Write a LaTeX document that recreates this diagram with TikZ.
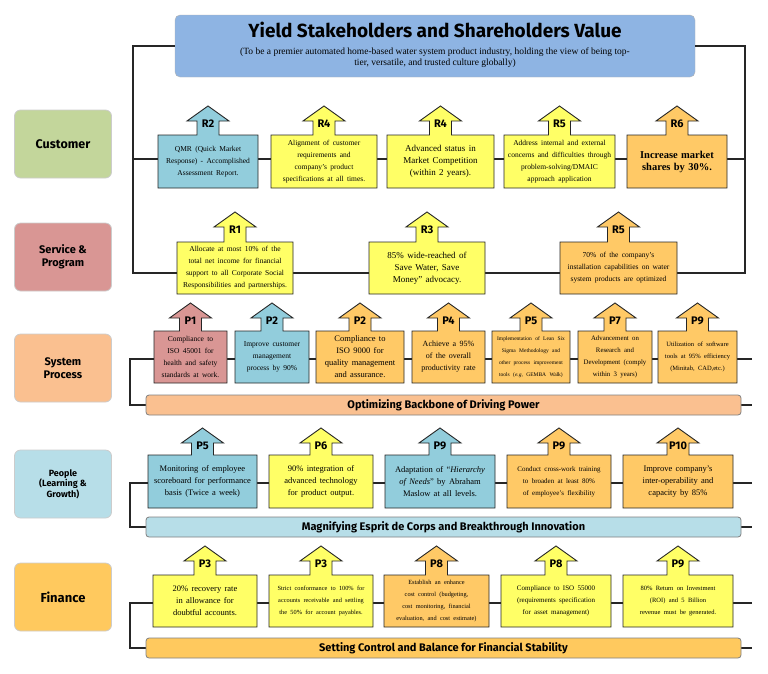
\documentclass[tikz,border=0pt]{standalone}
\usepackage{fontspec}
\setmainfont{Liberation Serif}
\newfontfamily\hd{Fira Sans}
\hyphenpenalty=10000 \exhyphenpenalty=10000
\definecolor{cyel}{HTML}{FFFF66}
\definecolor{corg}{HTML}{FFC966}
\definecolor{cblu}{HTML}{92CDDC}
\definecolor{cpnk}{HTML}{D99694}
\definecolor{ctit}{HTML}{8EB4E3}
\definecolor{cgrn}{HTML}{C3D69B}
\definecolor{csys}{HTML}{FAC090}
\definecolor{cppl}{HTML}{B7DEE8}
\definecolor{cfin}{HTML}{FFC95E}
\tikzset{
 conn/.style={line width=1.1pt,black!85},
 arr/.style={draw=black!85,line width=0.9pt,line join=miter},
 lab/.style={font=\hd\bfseries\fontsize{11}{12}\selectfont},
 cat/.style={draw=black!20,rounded corners=6pt,line width=0.8pt,minimum width=97pt,align=center,font=\hd\bfseries\fontsize{11}{13}\selectfont},
 ban/.style={draw=black!50,rounded corners=3pt,line width=0.8pt,minimum height=20pt,font=\hd\bfseries\fontsize{11}{12}\selectfont},
}
% name, x1, x2, yarrowtop, yboxtop, yboxbottom, color, label, text
\newcommand\abox[9]{%
 \pgfmathsetmacro\cx{(#2+#3)/2}%
 \draw[arr,fill=#7] (#2,#5) -- ({\cx-11},#5) -- ({\cx-11},{#4+15}) -- ({\cx-21},{#4+15}) -- (\cx,#4) -- ({\cx+21},{#4+15}) -- ({\cx+11},{#4+15}) -- ({\cx+11},#5) -- (#3,#5) -- (#3,#6) -- (#2,#6) -- cycle;
 \node[lab] at (\cx,{#4+18}) {#8};
 \node[align=center,text width={#3-#2-6pt},inner sep=0pt] (#1) at (\cx,{(#5+#6)/2}) {#9};
}
\begin{document}
\begin{tikzpicture}[x=1pt,y=-1pt]
\useasboundingbox (0,0) rectangle (768,673);
% title
\node[draw=black!30,fill=ctit,rounded corners=5pt,minimum width=520pt,minimum height=62pt] (title) at (435,46) {};
\node[font=\hd\bfseries\fontsize{19}{21}\selectfont] (ttl) at (435,30) {Yield Stakeholders and Shareholders Value};
\node[align=center,font=\fontsize{9.5}{11}\selectfont] (sub) at (435,58) {(To be a premier automated home-based water system product industry, holding the view of being top-\\tier, versatile, and trusted culture globally)};
% category labels
\node[cat,fill=cgrn,minimum height=68pt,font=\hd\bfseries\fontsize{12.5}{14}\selectfont] (c1) at (63,144) {Customer};
\node[cat,fill=cpnk,minimum height=68pt] (c2) at (63,257) {Service \&\\Program};
\node[cat,fill=csys,minimum height=68pt] (c3) at (63,368) {System\\Process};
\node[cat,fill=cppl,minimum height=68pt,font=\hd\bfseries\fontsize{9}{10.5}\selectfont] (c4) at (63,484) {People\\(Learning \&\\Growth)};
\node[cat,fill=cfin,minimum height=68pt,font=\hd\bfseries\fontsize{13}{14}\selectfont] (c5) at (63,597) {Finance};
% frame lines
\coordinate (tl) at (133,46); \coordinate (tr) at (745,46);
\coordinate (l1) at (133,159); \coordinate (r1) at (745,159);
\coordinate (l2) at (133,273); \coordinate (r2) at (745,273);
\draw[conn] (title.west) -- (tl) -- (l2) -- (r2) -- (tr) -- (title.east);
\draw[conn] (l1) -- (r1);
\foreach \a/\b in {359/405,483/527,603/648}{
 \draw[conn] (752,\a) -- (130,\a) -- (130,\b) -- (752,\b);
}
% banners
\node[ban,fill=csys,minimum width=595pt] (b1) at (443.5,405) {Optimizing Backbone of Driving Power};
\node[ban,fill=cppl,minimum width=595pt] (b2) at (443.5,527) {Magnifying Esprit de Corps and Breakthrough Innovation};
\node[ban,fill=cfin,minimum width=595pt] (b3) at (443.5,648) {Setting Control and Balance for Financial Stability};
% customer
\abox{r2a}{158}{258}{106}{135}{188}{cblu}{R2}{\fontsize{7.5}{10}\selectfont QMR (Quick Market Response) - Accomplished Assessment Report.}
\abox{r4a}{271}{377}{106}{135}{188}{cyel}{R4}{\fontsize{7.5}{9.5}\selectfont Alignment of customer requirements and company's product specifications at all times.}
\abox{r4b}{387}{494}{106}{135}{188}{cyel}{R4}{\fontsize{9}{12}\selectfont Advanced status in Market Competition (within 2 years).}
\abox{r5a}{504}{615}{106}{135}{188}{cyel}{R5}{\fontsize{7.5}{9.5}\selectfont Address internal and external concerns and difficulties through problem-solving/DMAIC approach application}
\abox{r6}{627}{727}{106}{135}{188}{corg}{R6}{\fontsize{10.5}{14}\selectfont\bfseries Increase market shares by 30\%.}
% service
\abox{r1}{177}{293}{212}{242}{294}{cyel}{R1}{\fontsize{7.5}{9.5}\selectfont Allocate at most 10\% of the total net income for financial support to all Corporate Social Responsibilities and partnerships.}
\abox{r3}{369}{485}{212}{242}{294}{cyel}{R3}{\fontsize{9}{12}\selectfont 85\% wide-reached of Save Water, Save Money'' advocacy.}
\abox{r5b}{560}{677}{212}{242}{294}{corg}{R5}{\fontsize{7.5}{9.5}\selectfont 70\% of the company's installation capabilities on water system products are optimized}
% system process
\abox{p1}{154}{227}{303}{331}{383}{cpnk}{P1}{\fontsize{7.5}{9.5}\selectfont Compliance to ISO 45001 for health and safety standards at work.}
\abox{p2a}{235}{309}{303}{331}{383}{cblu}{P2}{\fontsize{7.5}{9.5}\selectfont Improve customer management process by 90\%}
\abox{p2b}{316}{404}{303}{331}{383}{corg}{P2}{\fontsize{8.5}{10.5}\selectfont Compliance to ISO 9000 for quality management and assurance.}
\abox{p4}{412}{485}{303}{331}{383}{corg}{P4}{\fontsize{8}{10.5}\selectfont Achieve a 95\% of the overall productivity rate}
\abox{p5}{492}{570}{303}{331}{383}{corg}{P5}{\fontsize{5.5}{6.8}\selectfont Implementation of Lean Six Sigma Methodology and other process improvement tools (\textit{e.g}, GEMBA Walk)}
\abox{p7}{578}{652}{303}{331}{383}{corg}{P7}{\fontsize{6.8}{9}\selectfont Advancement on Research and Development (comply within 3 years)}
\abox{p9a}{658}{737}{303}{331}{383}{corg}{P9}{\fontsize{6.5}{8.5}\selectfont Utilization of software tools at 95\% efficiency (Minitab, CAD,etc.)}
% people
\abox{p5b}{148}{257}{428}{455}{508}{cblu}{P5}{\fontsize{8.5}{10.5}\selectfont Monitoring of employee scoreboard for performance basis (Twice a week)}
\abox{p6}{269}{373}{428}{455}{508}{cyel}{P6}{\fontsize{8.5}{10.5}\selectfont 90\% integration of advanced technology for product output.}
\abox{p9b}{385}{495}{428}{455}{508}{cblu}{P9}{\fontsize{8.5}{10.5}\selectfont Adaptation of ``\textit{Hierarchy of Needs}'' by Abraham Maslow at all levels.}
\abox{p9c}{507}{611}{428}{455}{508}{corg}{P9}{\fontsize{7}{9}\selectfont Conduct cross-work training to broaden at least 80\% of employee's flexibility}
\abox{p10}{623}{733}{428}{455}{508}{corg}{P10}{\fontsize{8.5}{10.5}\selectfont Improve company's inter-operability and capacity by 85\%}
% finance
\abox{p3a}{153}{257}{546}{575}{627}{cyel}{P3}{\fontsize{8.5}{11}\selectfont 20\% recovery rate in allowance for doubtful accounts.}
\abox{p3b}{269}{373}{546}{575}{627}{cyel}{P3}{\fontsize{6.3}{8}\selectfont Strict conformance to 100\% for accounts receivable and settling the 50\% for account payables.}
\abox{p8a}{384}{489}{546}{575}{627}{corg}{P8}{\fontsize{6.3}{8}\selectfont Establish an enhance cost control (budgeting, cost monitoring, financial evaluation, and cost estimate)}
\abox{p8b}{501}{611}{546}{575}{627}{cyel}{P8}{\fontsize{7}{10}\selectfont Compliance to ISO 55000 (requirements specification for asset management)}
\abox{p9d}{623}{733}{546}{575}{627}{cyel}{P9}{\fontsize{6.5}{9}\selectfont 80\% Return on Investment (ROI) and 5 Billion revenue must be generated.}
\end{tikzpicture}
\end{document}
